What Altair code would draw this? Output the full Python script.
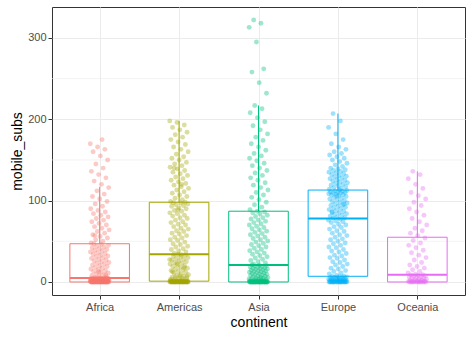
import altair as alt
import pandas as pd

continents = ["Africa", "Americas", "Asia", "Europe", "Oceania"]
colors = ["#F8766D", "#A3A500", "#00BF7D", "#00B0F6", "#E76BF3"]

# box statistics
q1 = [0, 1, 0, 7, 0]
median = [5, 34, 21, 78, 9]
q3 = [47, 98, 87, 113, 55]
lower = [0, 0, 0, 0, 0]
upper = [117, 198, 217, 207, 136]

# point values
africa = [0, 0, 0, 0, 0, 0, 0, 0, 0, 0, 0, 0, 0, 0, 0, 0, 0, 0, 0, 0, 0, 0, 0, 0, 0,
          0.05, 0.1, 0.15, 0.2, 0.25, 0.3, 0.35, 0.4, 0.45, 0.5, 0.55, 0.6, 0.65, 0.7, 0.75,
          0.8, 0.85, 0.9, 0.95, 1,
          1.1, 1.2, 1.3, 1.4, 1.5, 1.6, 1.7, 1.8, 1.9, 2.0, 2.1, 2.2, 2.3, 2.4, 2.5, 2.6, 2.7,
          2.8, 2.9, 3.0, 3.1, 3.2, 3.3, 3.4, 3.5, 3.6, 3.7, 3.8, 3.9, 4.0, 4.1, 4.2, 4.3, 4.4,
          4.5, 4.6, 4.7, 4.8, 4.9, 5.0, 0.3, 0.6, 0.9, 1.5, 2.5,
          5.5, 6, 7, 8, 9, 10, 11, 12, 13, 14, 15, 16, 17, 18, 19, 20, 21, 22, 23, 24, 25, 26,
          27, 28, 29, 30, 31, 32, 33, 34, 35, 36, 37, 38, 39, 40, 41, 42, 43, 44, 45, 46, 47,
          8.5, 12.5,
          48, 50, 52, 54, 56, 58, 60, 62, 64, 66, 68, 70, 72, 74, 76, 78, 80, 82, 84, 86, 88,
          90, 93, 96, 99, 102, 105, 108, 112, 116, 120, 124, 128, 132, 136, 140, 145, 150,
          155, 160, 163, 166, 170, 175, 57]
americas = [0, 0, 0, 0, 0, 0, 0, 0, 0, 0, 0, 0, 0, 0, 0, 0, 0, 0, 0, 0,
            0.04, 0.08, 0.12, 0.16, 0.2, 0.24, 0.28, 0.32, 0.36, 0.4, 0.44, 0.48, 0.52, 0.56,
            0.6, 0.64, 0.68, 0.72, 0.76, 0.8, 0.84, 0.88, 0.92, 0.96, 1.0,
            1.5, 2, 2.5, 3, 4, 5, 6, 7, 8, 9, 10, 11, 12, 13, 14, 15, 16, 17, 18, 19, 20, 21,
            22, 23, 24, 25, 26, 27, 28, 29, 30, 31, 32, 33, 34, 3.5, 4.5, 5.5, 6.5, 7.5, 12.5,
            17.5, 22.5, 27.5, 33.5,
            35, 37, 38, 40, 41, 43, 44, 46, 47, 49, 51, 52, 54, 55, 57, 59, 60, 62, 63, 65, 66,
            68, 70, 71, 73, 74, 76, 78, 79, 81, 82, 84, 85, 87, 88, 90, 91, 93, 94, 95, 96, 97,
            97.5, 98, 89,
            99, 101, 103, 105, 107, 109, 111, 113, 115, 117, 119, 121, 123, 125, 127, 129, 131,
            133, 135, 137, 139, 141, 143, 145, 147, 150, 152, 154, 157, 160, 163, 166, 169,
            172, 175, 178, 181, 184, 187, 190, 193, 196, 198, 120, 140]
asia = [0, 0, 0, 0, 0, 0, 0, 0, 0, 0, 0, 0, 0, 0, 0, 0, 0, 0, 0, 0, 0, 0, 0, 0, 0,
        0.05, 0.1, 0.15, 0.2, 0.25, 0.3, 0.35, 0.4, 0.45, 0.5, 0.6, 0.7, 0.8, 0.9, 1.0,
        0.02, 0.03, 0.08, 0.12, 0.18,
        1.2, 1.5, 2, 2.5, 3, 3.5, 4, 4.5, 5, 5.5, 6, 6.5, 7, 7.5, 8, 8.5, 9, 9.5, 10, 10.5,
        11, 11.5, 12, 12.5, 13, 13.5, 14, 14.5, 15, 15.5, 16, 16.5, 17, 17.5, 18, 18.5, 19,
        19.5, 20, 20.5, 21, 1.8, 2.8, 3.8, 4.8,
        22, 23.5, 25, 26.5, 28, 29.5, 31, 32.5, 34, 35.5, 37, 38.5, 40, 41.5, 43, 44.5, 46,
        47.5, 49, 50.5, 52, 53.5, 55, 56.5, 58, 59.5, 61, 62.5, 64, 65.5, 67, 68.5, 70, 71.5,
        73, 74.5, 76, 77.5, 79, 80.5, 82, 83.5, 85, 86, 87,
        89, 92, 95, 98, 101, 104, 107, 110, 113, 116, 119, 122, 125, 128, 131, 134, 137, 140,
        143, 146, 149, 152, 155, 158, 162, 166, 170, 174, 178, 182, 187, 192, 197, 202, 208,
        213, 217, 232, 245, 258, 262, 295, 313, 318, 322]
europe = [0, 0, 0, 0, 0, 0, 0, 0, 0, 0, 0, 0, 0, 0, 0, 0.1, 0.2, 0.3, 0.4, 0.5, 0.6, 0.8,
          1.0, 1.2, 1.4, 1.6, 1.8, 2.0, 2.3, 2.6, 2.9, 3.2, 3.5, 3.8, 4.1, 4.4, 4.7, 5.0, 5.3,
          5.6, 5.9, 6.2, 6.5, 6.8, 7.0,
          8, 10, 11, 13, 14, 16, 17, 19, 21, 22, 24, 25, 27, 29, 30, 32, 33, 35, 37, 38, 40,
          42, 43, 45, 47, 48, 50, 52, 53, 55, 57, 58, 60, 62, 63, 65, 67, 68, 70, 71, 73, 74,
          75, 76, 77,
          78.5, 79, 80, 81, 82, 83, 84, 85, 86, 87, 88, 89, 90, 91, 92, 93, 94, 95, 96, 97,
          98, 99, 100, 101, 102, 103, 104, 105, 106, 107, 107.5, 108, 108.5, 109, 109.5, 110,
          110.5, 111, 111.5, 112, 112.5, 113, 85.5, 95.5, 105.5,
          114, 115, 116, 117, 118, 119, 120, 121, 122, 123, 124, 125, 126, 127, 128, 129, 130,
          131, 132, 133, 134, 135, 136, 137, 138, 139, 140, 142, 144, 146, 148, 150, 152, 154,
          156, 158, 160, 163, 166, 170, 175, 182, 190, 198, 207]
oceania = [0, 0, 0, 0, 0, 0, 0, 0, 0, 0, 0.2, 0.4, 0.6, 0.8, 1.0, 1.3, 1.6, 2.0,
           2.5, 3, 3.5, 4, 4.5, 5, 5.5, 6, 6.5, 7, 7.5, 8, 8.5, 9, 9.5,
           11, 13, 15, 17, 19, 21, 24, 27, 30, 33, 36, 39, 42, 45, 48, 51, 54,
           57, 60, 63, 66, 70, 74, 78, 82, 86, 90, 94, 98, 102, 106, 110, 115, 120, 127, 132, 136]

series = [africa, americas, asia, europe, oceania]

points = pd.DataFrame(
    [{"continent": c, "pos": i + 1, "mobile_subs": v}
     for i, (c, vals) in enumerate(zip(continents, series)) for v in vals]
)
boxes = pd.DataFrame({
    "continent": continents,
    "pos": list(range(1, len(continents) + 1)),
    "q1": q1, "median": median, "q3": q3, "lower": lower, "upper": upper,
})
minor = pd.DataFrame({"y": [50, 150, 250]})

color = alt.Color("continent:N", scale=alt.Scale(domain=continents, range=colors), legend=None)
label_array = "[" + ",".join("'%s'" % c for c in continents) + "]"

xscale = alt.Scale(domain=[0.4, 5.6], nice=False, zero=False)
yscale = alt.Scale(domain=[-16, 338], nice=False, zero=False)

xaxis = alt.Axis(values=[1, 2, 3, 4, 5], labelExpr=label_array + "[datum.value-1]",
                 title="continent", grid=True)
yaxis = alt.Axis(values=[0, 100, 200, 300], title="mobile_subs", grid=True)

minor_layer = alt.Chart(minor).mark_rule(color="#EBEBEB", strokeWidth=0.6).encode(
    y=alt.Y("y:Q", scale=yscale, axis=yaxis)
)

pts = alt.Chart(points).transform_window(
    rn="row_number()", groupby=["continent"]
).transform_calculate(
    xj="datum.pos + (((datum.rn * 0.6180339887) % 1) - 0.5) * 0.24"
).mark_circle(size=24, opacity=0.38).encode(
    x=alt.X("xj:Q", scale=xscale, axis=xaxis),
    y=alt.Y("mobile_subs:Q", scale=yscale, axis=yaxis),
    color=color,
)

base = alt.Chart(boxes).transform_calculate(
    xl="datum.pos - 0.375", xr="datum.pos + 0.375"
)

whisk_up = base.mark_rule(strokeWidth=1).encode(
    x=alt.X("pos:Q", scale=xscale, axis=xaxis), y=alt.Y("q3:Q", scale=yscale, axis=yaxis),
    y2="upper:Q", color=color)
whisk_lo = base.mark_rule(strokeWidth=1).encode(
    x=alt.X("pos:Q", scale=xscale, axis=xaxis), y=alt.Y("lower:Q", scale=yscale, axis=yaxis),
    y2="q1:Q", color=color)
box = base.mark_rect(filled=False, strokeWidth=1).encode(
    x=alt.X("xl:Q", scale=xscale, axis=xaxis), x2="xr:Q",
    y=alt.Y("q1:Q", scale=yscale, axis=yaxis), y2="q3:Q", color=color)
med = base.mark_rule(strokeWidth=2).encode(
    x=alt.X("xl:Q", scale=xscale, axis=xaxis), x2="xr:Q",
    y=alt.Y("median:Q", scale=yscale, axis=yaxis), color=color)

chart = alt.layer(minor_layer, pts, whisk_up, whisk_lo, box, med).properties(
    width=413, height=288,
    padding={"left": 52, "top": 7, "right": 9, "bottom": 43},
    autosize="none", background="white",
).configure_view(
    stroke="#333333", strokeWidth=1
).configure_axis(
    domain=False, gridColor="#EBEBEB", gridWidth=1,
    tickColor="#333333", tickSize=4, labelPadding=2,
    labelColor="#4D4D4D", labelFontSize=11, labelFont="Liberation Sans",
    titleFont="Liberation Sans", titleFontSize=14, titleColor="#000000",
    titleFontWeight="normal", titlePadding=3,
)

chart.save("out.html", embed_options={"renderer": "svg", "actions": False})
